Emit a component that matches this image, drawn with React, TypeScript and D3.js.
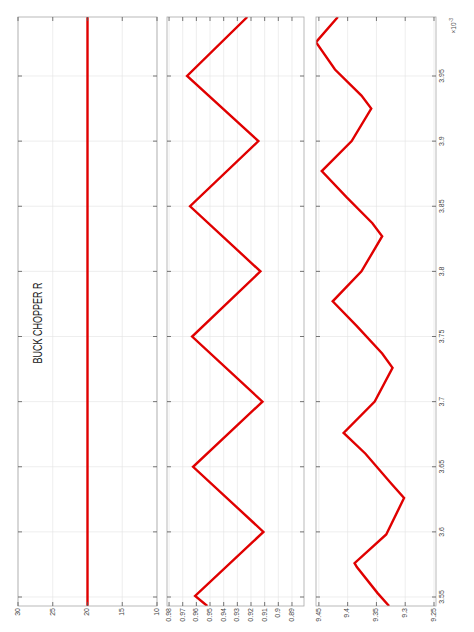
import React from 'react';
import * as d3 from 'd3';

// time axis (ms, shown with ×10^-3 multiplier)
const timeTicks = [3.55, 3.6, 3.65, 3.7, 3.75, 3.8, 3.85, 3.9, 3.95];
const timeTickLabels = ['3.55', '3.6', '3.65', '3.7', '3.75', '3.8', '3.85', '3.9', '3.95'];
const timeDomain = [3.5431, 3.9953];

// panel 1: constant 20
const rTime = [3.5431, 3.9953];
const rValue = [20, 20];
const rTicks = [30, 25, 20, 15, 10];
const rTickLabels = ['30', '25', '20', '15', '10'];

// panel 2: triangular duty signal
const dTime = [3.5431, 3.5508, 3.6, 3.65, 3.7, 3.75, 3.8, 3.85, 3.9, 3.95, 3.9953];
const dValue = [0.952, 0.9609, 0.9109, 0.9624, 0.9116, 0.9631, 0.9131, 0.9646, 0.9146, 0.9668, 0.9227];
const dTicks = [0.98, 0.97, 0.96, 0.95, 0.94, 0.93, 0.92, 0.91, 0.9, 0.89];
const dTickLabels = ['0.98', '0.97', '0.96', '0.95', '0.94', '0.93', '0.92', '0.91', '0.9', '0.89'];

// panel 3: output voltage
const vTime = [3.5431, 3.553, 3.573, 3.576, 3.598, 3.626, 3.637, 3.66, 3.676, 3.7, 3.726, 3.737, 3.758, 3.777, 3.8, 3.827, 3.837, 3.857, 3.877, 3.9, 3.925, 3.935, 3.955, 3.976, 3.9953];
const vValue = [9.328, 9.348, 9.384, 9.388, 9.333, 9.302, 9.324, 9.369, 9.407, 9.353, 9.322, 9.34, 9.384, 9.426, 9.376, 9.34, 9.357, 9.402, 9.445, 9.393, 9.359, 9.376, 9.422, 9.455, 9.417];
const vTicks = [9.45, 9.4, 9.35, 9.3, 9.25];
const vTickLabels = ['9.45', '9.4', '9.35', '9.3', '9.25'];

const W = 632; // original (unrotated) width
const X0 = 26, X1 = 615;
const FONT = '"Liberation Sans", Arial, sans-serif';

const x = d3.scaleLinear().domain(timeDomain).range([X0, X1]);

function Panel({ id, y0, y1, domain, time, value, ticks, labels, showX }: any) {
  const y = d3.scaleLinear().domain(domain).range([y0, y1]);
  const line = d3.line<number>().x((_, i) => x(time[i])).y((d) => y(d));
  const tl = 4;
  return (
    <g>
      <defs>
        <clipPath id={id}>
          <rect x={X0} y={y0} width={X1 - X0} height={y1 - y0} />
        </clipPath>
      </defs>
      <rect x={X0} y={y0} width={X1 - X0} height={y1 - y0} fill="#fff" />
      {timeTicks.map((t) => (
        <line key={'gx' + t} x1={x(t)} x2={x(t)} y1={y0} y2={y1} stroke="#e3e3e3" strokeWidth={0.6} />
      ))}
      {ticks.map((v: number) => (
        <line key={'gy' + v} x1={X0} x2={X1} y1={y(v)} y2={y(v)} stroke="#e3e3e3" strokeWidth={0.6} />
      ))}
      <path d={line(value) || ''} fill="none" stroke="#e00000" strokeWidth={2.4} clipPath={`url(#${id})`} strokeLinejoin="miter" />
      <rect x={X0} y={y0} width={X1 - X0} height={y1 - y0} fill="none" stroke="#a8a8a8" strokeWidth={0.8} />
      {timeTicks.map((t) => (
        <g key={'tx' + t}>
          <line x1={x(t)} x2={x(t)} y1={y1} y2={y1 - tl} stroke="#555" strokeWidth={0.8} />
          <line x1={x(t)} x2={x(t)} y1={y0} y2={y0 + tl} stroke="#555" strokeWidth={0.8} />
        </g>
      ))}
      {ticks.map((v: number, i: number) => (
        <g key={'ty' + v}>
          <line x1={X0} x2={X0 + tl} y1={y(v)} y2={y(v)} stroke="#555" strokeWidth={0.8} />
          <line x1={X1} x2={X1 - tl} y1={y(v)} y2={y(v)} stroke="#555" strokeWidth={0.8} />
          <text x={X0 - 2} y={y(v)} textAnchor="end" dominantBaseline="middle" fontSize={7} fill="#444" fontFamily={FONT}>
            {labels[i]}
          </text>
        </g>
      ))}
      {showX &&
        timeTicks.map((t, i) => (
          <text key={'lx' + t} x={x(t)} y={y1 + 3} textAnchor="middle" dominantBaseline="hanging" fontSize={7} fill="#444" fontFamily={FONT}>
            {timeTickLabels[i]}
          </text>
        ))}
    </g>
  );
}

export default function App() {
  return (
    <svg width={474} height={632} style={{ position: 'absolute', left: 0, top: 0, background: '#fff' }}>
      <rect x={0} y={0} width={474} height={632} fill="#fff" />
      <g transform={`translate(0,${W}) rotate(-90)`}>
        <Panel id="c1" y0={18} y1={157} domain={[30, 10]} time={rTime} value={rValue} ticks={rTicks} labels={rTickLabels} showX={false} />
        <Panel id="c2" y0={167} y1={304} domain={[0.9815, 0.8812]} time={dTime} value={dValue} ticks={dTicks} labels={dTickLabels} showX={false} />
        <Panel id="c3" y0={316} y1={436} domain={[9.455, 9.2465]} time={vTime} value={vValue} ticks={vTicks} labels={vTickLabels} showX={true} />
        <text x={309} y={42} textAnchor="middle" fontSize={12} textLength={81} lengthAdjust="spacingAndGlyphs" fill="#111" fontFamily={FONT}>
          BUCK CHOPPER R
        </text>
        <text x={614} y={456} textAnchor="end" fontSize={6.5} fill="#555" fontFamily={FONT}>
          ×10
          <tspan dy={-3} fontSize={5}>-3</tspan>
        </text>
      </g>
    </svg>
  );
}
